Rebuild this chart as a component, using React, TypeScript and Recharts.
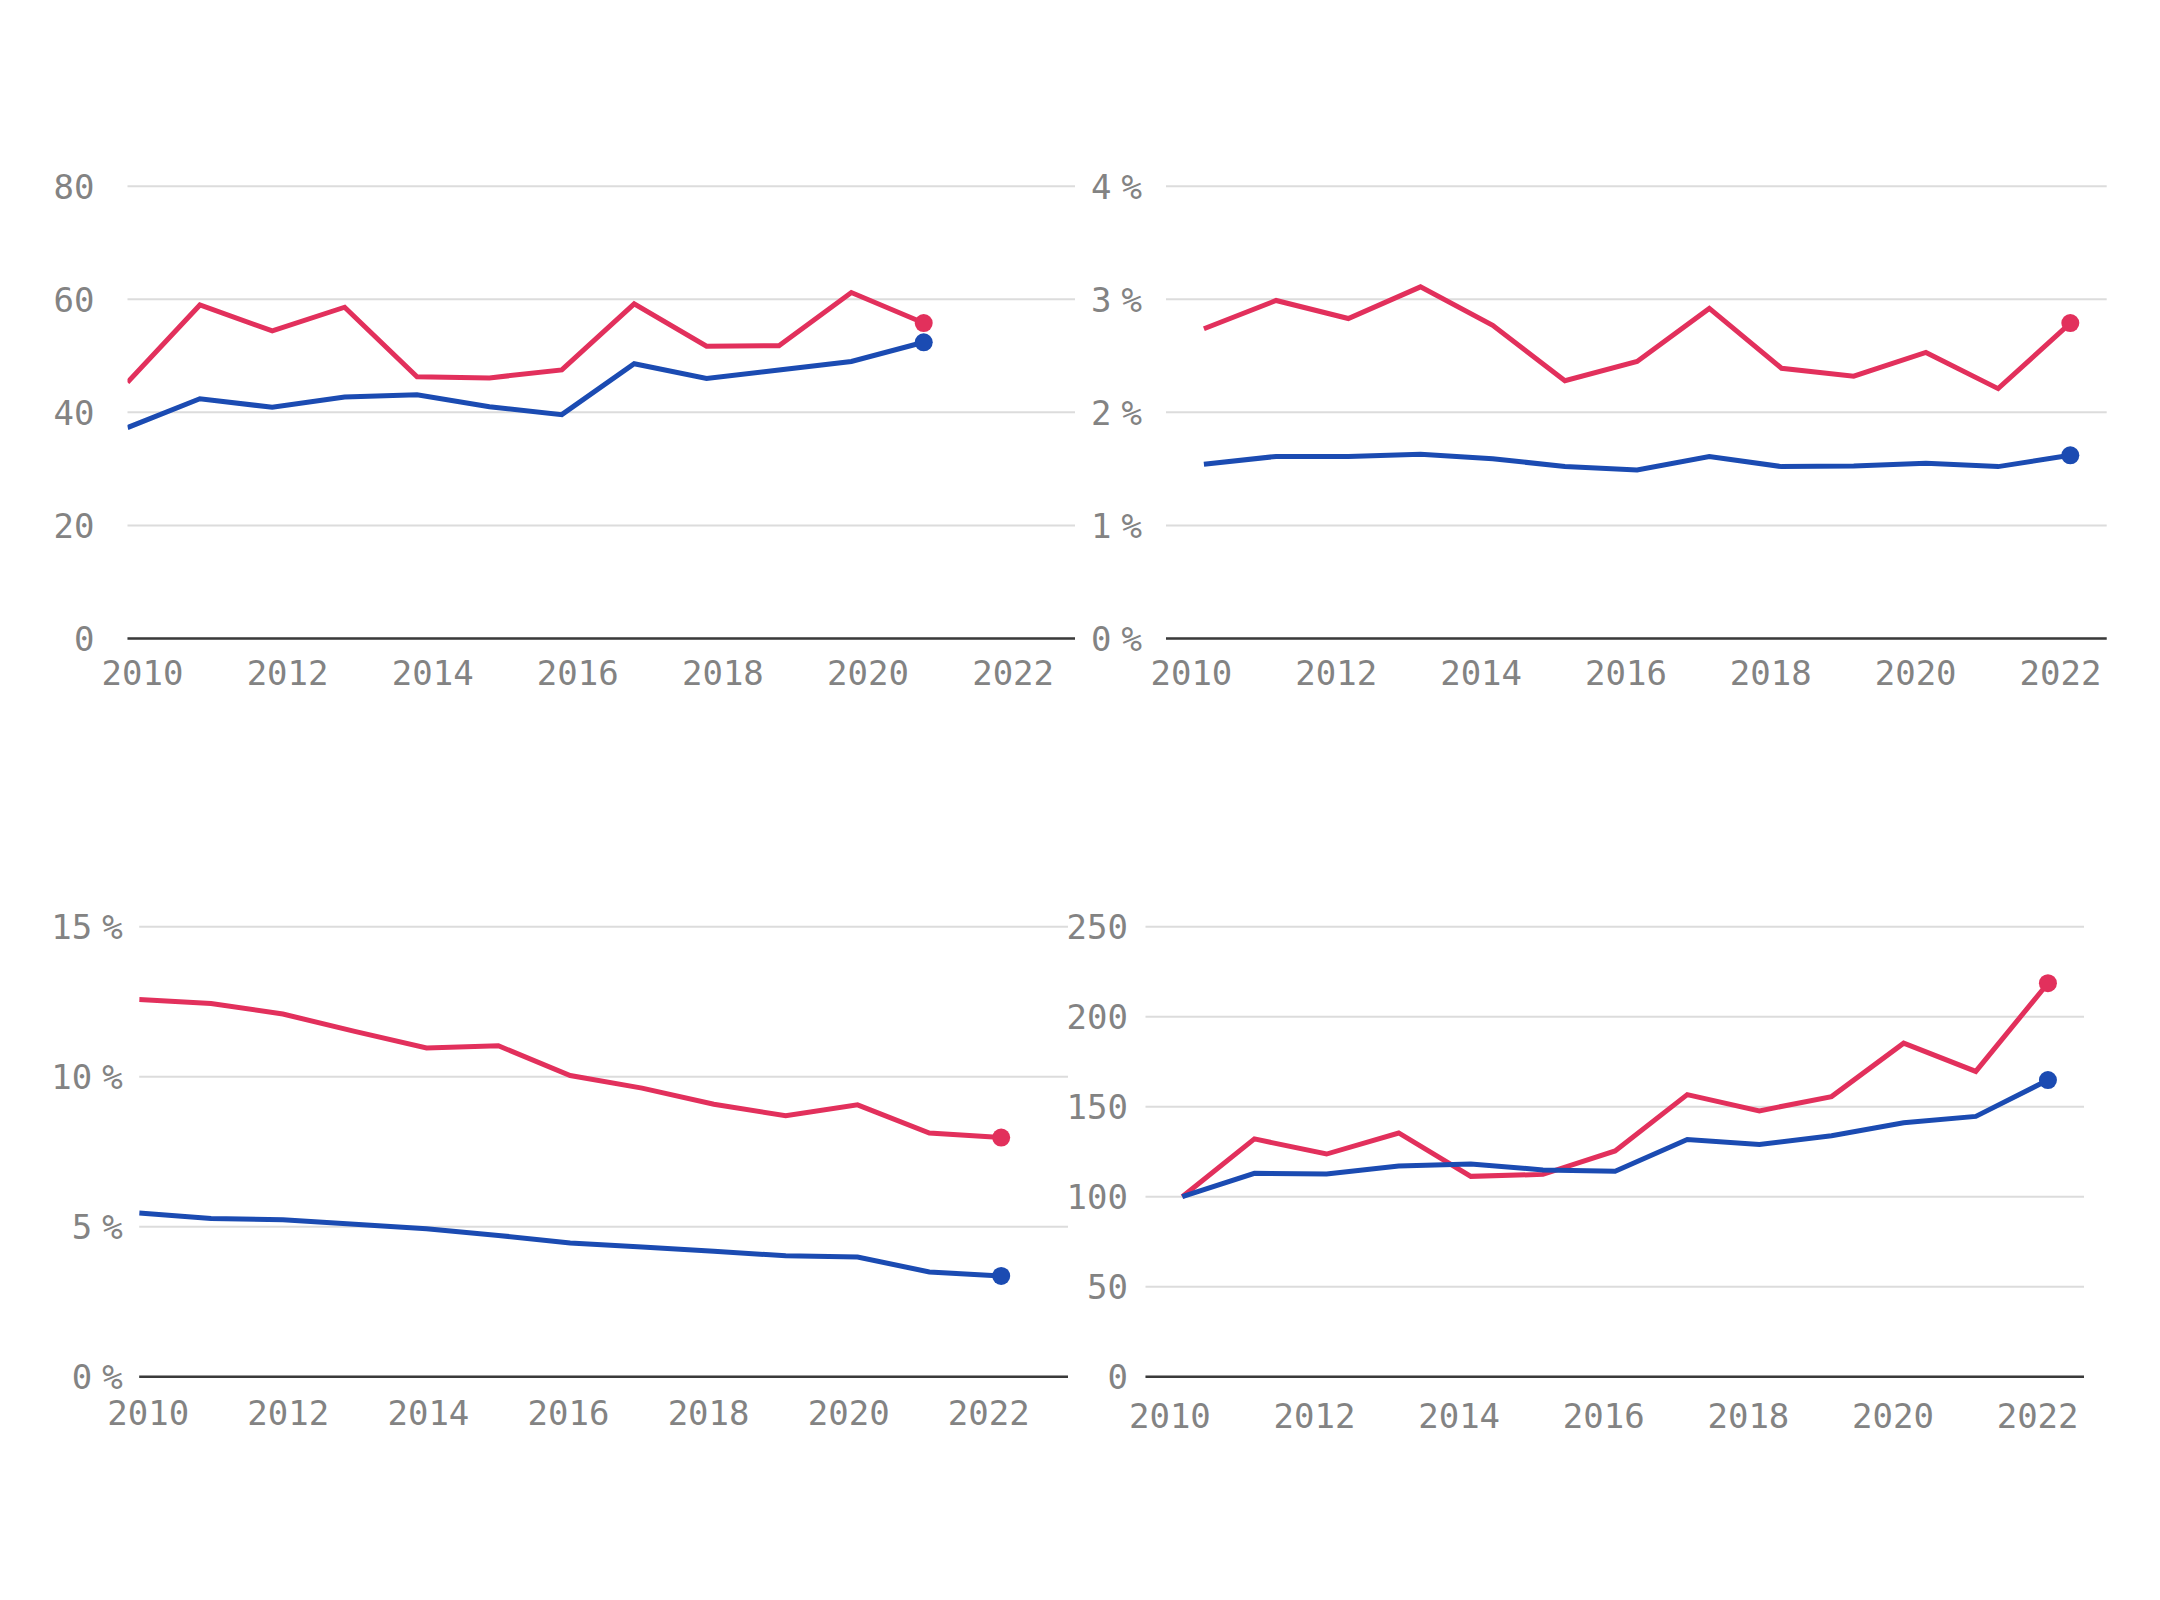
import React from "react";
import { LineChart, Line, XAxis, YAxis, CartesianGrid } from "recharts";

const RED = "#e2305c";
const BLUE = "#1b4bb2";
const FONT = "'DejaVu Sans Mono', 'Liberation Mono', monospace";
const LABEL = "#838383";

const YEARS_A = [2010, 2011, 2012, 2013, 2014, 2015, 2016, 2017, 2018, 2019, 2020, 2021];
const YEARS_B = [2010, 2011, 2012, 2013, 2014, 2015, 2016, 2017, 2018, 2019, 2020, 2021, 2022];
const YEAR_TICKS = [2010, 2012, 2014, 2016, 2018, 2020, 2022];

// top left: absolute values
const tlRed = [45.3, 59.0, 54.4, 58.6, 46.3, 46.1, 47.5, 59.2, 51.7, 51.8, 61.2, 55.8];
const tlBlue = [37.3, 42.4, 40.9, 42.7, 43.1, 41.0, 39.6, 48.6, 46.0, 47.5, 49.0, 52.4];
const tlTicks = [0, 20, 40, 60, 80];

// top right: share in %
const trRed = [2.74, 2.99, 2.83, 3.11, 2.77, 2.28, 2.45, 2.92, 2.39, 2.32, 2.53, 2.21, 2.79];
const trBlue = [1.54, 1.61, 1.61, 1.63, 1.59, 1.52, 1.49, 1.61, 1.52, 1.525, 1.55, 1.52, 1.62];
const trTicks = [0, 1, 2, 3, 4];

// bottom left: share in %
const blRed = [12.57, 12.44, 12.09, 11.51, 10.96, 11.03, 10.04, 9.62, 9.08, 8.7, 9.06, 8.12, 7.97];
const blBlue = [5.46, 5.27, 5.23, 5.08, 4.93, 4.71, 4.46, 4.32, 4.18, 4.03, 3.99, 3.49, 3.36];
const blTicks = [0, 5, 10, 15];

// bottom right: index 2010 = 100
const brRed = [100, 132.1, 123.7, 135.4, 111.3, 112.4, 125.4, 156.7, 147.7, 155.6, 185.3, 169.6, 218.6];
const brBlue = [100, 113.0, 112.6, 117.0, 118.1, 114.9, 114.1, 131.8, 129.0, 133.9, 141.1, 144.6, 164.8];
const brTicks = [0, 50, 100, 150, 200, 250];

const rows = (years: number[], red: number[], blue: number[]) =>
  years.map((year, i) => ({ year, red: red[i], blue: blue[i] }));

interface PanelProps {
  data: { year: number; red: number; blue: number }[];
  box: [number, number];
  plot: { left: number; right: number; top: number; bottom: number };
  xDomain: [number, number];
  yDomain: [number, number];
  yTicks: number[];
  yGap: number;
  xGap: number;
  labelShift: [number, number];
  percent?: boolean;
}

const BOX_W = 1120;
const BOX_H = 800;

function Panel({ data, box, plot, xDomain, yDomain, yTicks, yGap, xGap, labelShift, percent }: PanelProps) {
  const [bx, by] = box;
  const last = data.length - 1;

  const endDot = (color: string) => (props: any) =>
    props.index === last ? (
      <circle key={`d${props.index}`} cx={props.cx} cy={props.cy} r={9} fill={color} />
    ) : (
      <g key={`d${props.index}`} />
    );

  const yTick = (props: any) => (
    <text x={props.x} y={props.y} dy="0.36em" textAnchor="end" fill={LABEL} fontFamily={FONT} fontSize={34}>
      {props.payload.value}
      {percent && <tspan dx={10}>%</tspan>}
    </text>
  );

  const xTick = (props: any) => {
    const t = (props.payload.value - 2010) / 12;
    const shift = labelShift[0] + (labelShift[1] - labelShift[0]) * t;
    return (
      <text
        x={props.x + shift}
        y={props.y}
        dy="0.71em"
        textAnchor="middle"
        fill={LABEL}
        fontFamily={FONT}
        fontSize={34}
      >
        {props.payload.value}
      </text>
    );
  };

  return (
    <div style={{ position: "absolute", left: bx, top: by }}>
      <LineChart
        width={BOX_W}
        height={BOX_H}
        data={data}
        margin={{ top: plot.top - by, right: bx + BOX_W - plot.right, bottom: 0, left: 0 }}
      >
        <CartesianGrid vertical={false} stroke="#dcdcdc" strokeWidth={2} />
        <XAxis
          dataKey="year"
          type="number"
          domain={xDomain}
          ticks={YEAR_TICKS}
          allowDataOverflow
          height={by + BOX_H - plot.bottom}
          tickLine={false}
          tickSize={0}
          tickMargin={xGap}
          axisLine={{ stroke: "#3a3a3a", strokeWidth: 2.5 }}
          tick={xTick}
          interval={0}
        />
        <YAxis
          type="number"
          domain={yDomain}
          ticks={yTicks}
          width={plot.left - bx}
          axisLine={false}
          tickLine={false}
          tickSize={0}
          tickMargin={yGap}
          tick={yTick}
          interval={0}
        />
        <Line
          dataKey="red"
          stroke={RED}
          strokeWidth={5}
          dot={endDot(RED)}
          activeDot={false}
          isAnimationActive={false}
        />
        <Line
          dataKey="blue"
          stroke={BLUE}
          strokeWidth={5}
          dot={endDot(BLUE)}
          activeDot={false}
          isAnimationActive={false}
        />
      </LineChart>
    </div>
  );
}

export default function App() {
  return (
    <div style={{ position: "absolute", left: 0, top: 0, width: 2160, height: 1600, background: "#fff" }}>
      <Panel
        data={rows(YEARS_A, tlRed, tlBlue)}
        box={[0, 0]}
        plot={{ left: 127.5, right: 1075, top: 186.3, bottom: 638.4 }}
        xDomain={[2010, 2023.09]}
        yDomain={[0, 80]}
        yTicks={tlTicks}
        yGap={33}
        xGap={22}
        labelShift={[15, 17]}
      />
      <Panel
        data={rows(YEARS_B, trRed, trBlue)}
        box={[1040, 0]}
        plot={{ left: 1166, right: 2106.7, top: 186.3, bottom: 638.4 }}
        xDomain={[2009.475, 2022.504]}
        yDomain={[0, 4]}
        yTicks={trTicks}
        yGap={24}
        xGap={22}
        labelShift={[-12.5, -9.8]}
        percent
      />
      <Panel
        data={rows(YEARS_B, blRed, blBlue)}
        box={[0, 800]}
        plot={{ left: 139.2, right: 1068, top: 926.7, bottom: 1376.7 }}
        xDomain={[2010, 2022.93]}
        yDomain={[0, 15]}
        yTicks={blTicks}
        yGap={16.5}
        xGap={24}
        labelShift={[9, -12.4]}
        percent
      />
      <Panel
        data={rows(YEARS_B, brRed, brBlue)}
        box={[1040, 800]}
        plot={{ left: 1145.5, right: 2084, top: 926.7, bottom: 1376.7 }}
        xDomain={[2009.49, 2022.5]}
        yDomain={[0, 250]}
        yTicks={brTicks}
        yGap={17.5}
        xGap={27}
        labelShift={[-12.4, -10.3]}
      />
    </div>
  );
}
